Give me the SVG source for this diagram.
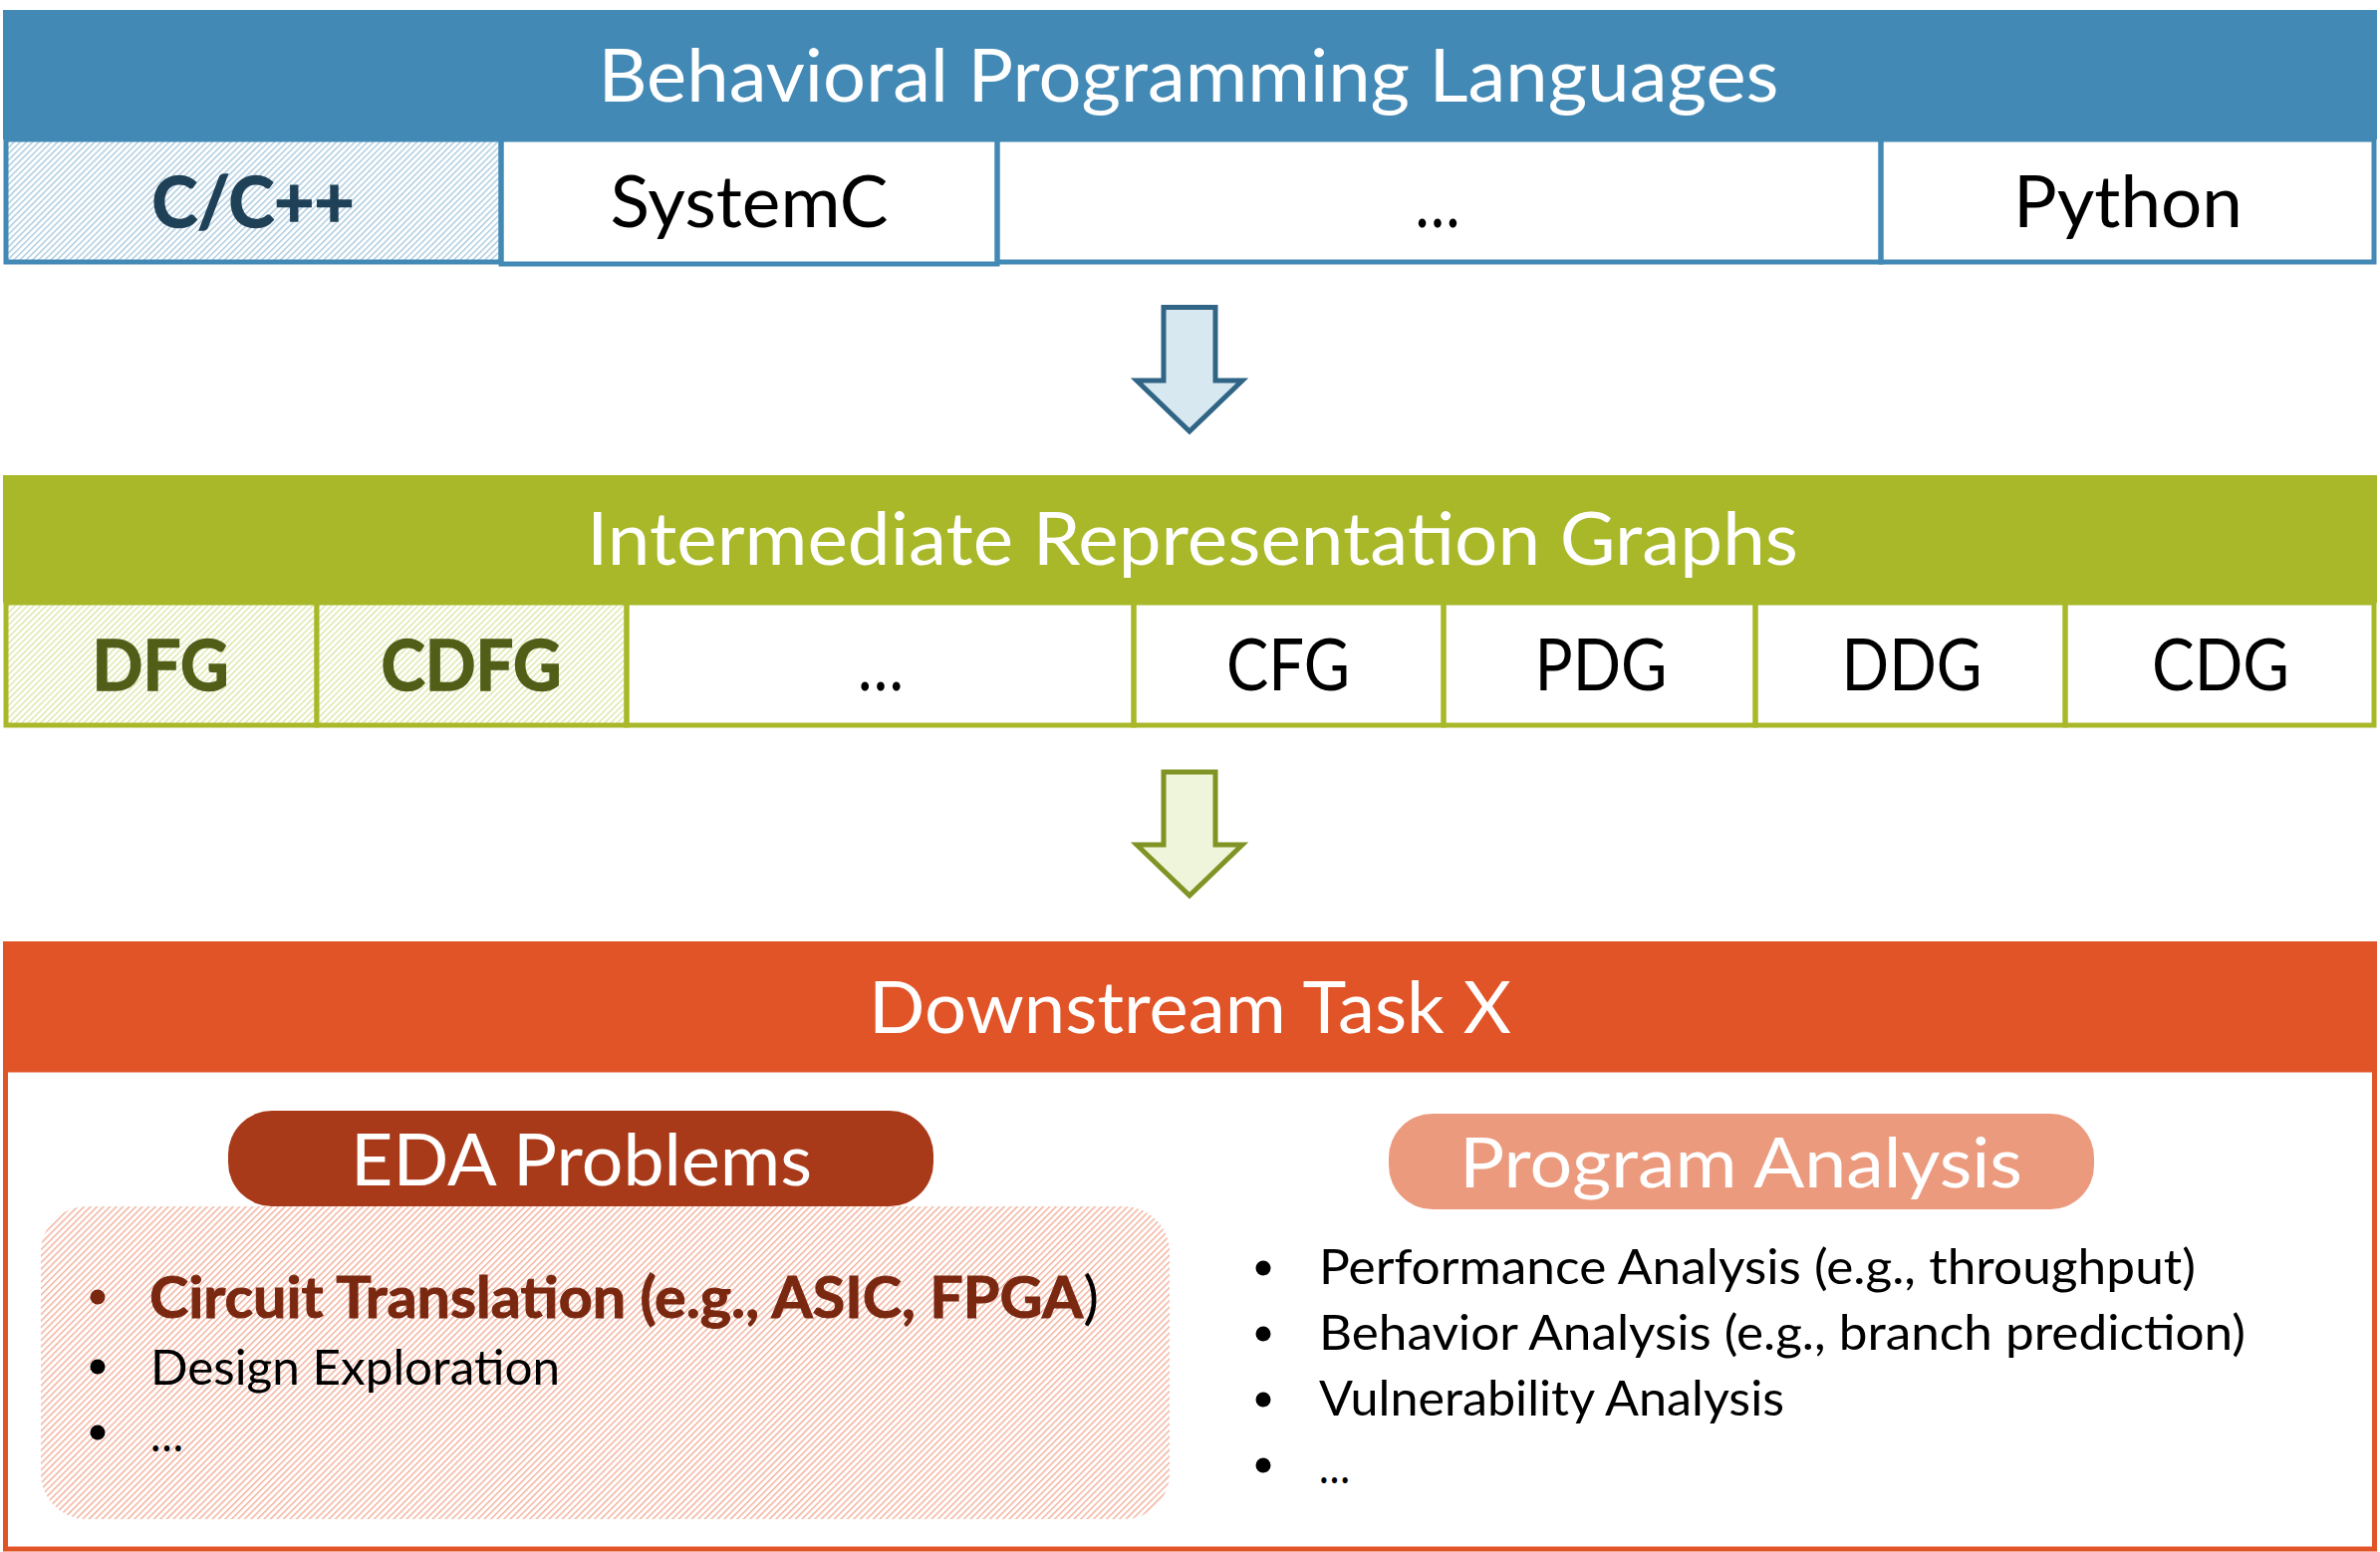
<svg xmlns="http://www.w3.org/2000/svg" width="2389" height="1558" viewBox="0 0 2389 1558">
<defs>
<pattern id="hBlue" patternUnits="userSpaceOnUse" width="4.4" height="4.4" patternTransform="rotate(45)">
<rect width="4.4" height="4.4" fill="#ffffff"/>
<rect x="0" y="0" width="1.4" height="4.4" fill="#A9CADF"/>
</pattern>
<pattern id="hGreen" patternUnits="userSpaceOnUse" width="4.4" height="4.4" patternTransform="rotate(45)">
<rect width="4.4" height="4.4" fill="#ffffff"/>
<rect x="0" y="0" width="1.4" height="4.4" fill="#DCE6A6"/>
</pattern>
<pattern id="hRed" patternUnits="userSpaceOnUse" width="4.6" height="4.6" patternTransform="rotate(45)">
<rect width="4.6" height="4.6" fill="#ffffff"/>
<rect x="0" y="0" width="1.4" height="4.6" fill="#F2AE99"/>
</pattern>
</defs>
<style>
text{font-family:Lato,"Open Sans","Liberation Sans",sans-serif;}
.hdr{fill:#ffffff;font-size:73px;text-anchor:middle;}
.cell{font-size:71px;text-anchor:middle;fill:#000000;}
.bcell{fill:none;stroke:#4289B5;stroke-width:5;}
.gcell{fill:none;stroke:#A8B829;stroke-width:5;}
.bul{font-size:49px;fill:#000000;}
.heavy{stroke-width:1.5px;paint-order:stroke;}
</style>
<rect width="2389" height="1558" fill="#ffffff"/>

<g id="behavioral">
<rect x="3" y="10" width="2383" height="130" fill="#4289B5"/>
<text class="hdr" x="1193" y="102" textLength="1185" lengthAdjust="spacingAndGlyphs">Behavioral Programming Languages</text>
</g>
<g id="cell-c">
<rect x="6" y="140" width="497" height="123" fill="url(#hBlue)"/>
<rect class="bcell" x="6" y="140" width="497" height="123"/>
<text class="cell heavy" x="254" y="228" font-weight="bold" style="fill:#1F4158;stroke:#1F4158" textLength="203" lengthAdjust="spacingAndGlyphs">C/C++</text>
</g>
<g id="cell-systemc">
<rect class="bcell" x="503" y="140" width="498" height="125" fill="#ffffff"/>
<text class="cell" x="752" y="228" textLength="279" lengthAdjust="spacingAndGlyphs">SystemC</text>
</g>
<g id="cell-dots1">
<rect class="bcell" x="1001" y="140" width="887" height="123"/>
<text class="cell" x="1443" y="228" textLength="45" lengthAdjust="spacingAndGlyphs">…</text>
</g>
<g id="cell-python">
<rect class="bcell" x="1888" y="140" width="495" height="123"/>
<text class="cell" x="2136" y="228" textLength="230" lengthAdjust="spacingAndGlyphs">Python</text>
</g>

<g id="connectors">
<polygon points="1168,308.5 1220,308.5 1220,382 1247,382 1194,433 1141,382 1168,382" fill="#D8E8F1" stroke="#316585" stroke-width="5"/>
<polygon points="1168,775 1220,775 1220,848 1247,848 1194,899 1141,848 1168,848" fill="#EFF5DA" stroke="#7F9424" stroke-width="5"/>
</g>

<g id="ir-graphs">
<rect x="3" y="477" width="2383" height="128" fill="#A8B829"/>
<text class="hdr" x="1197" y="567" textLength="1216" lengthAdjust="spacingAndGlyphs">Intermediate Representation Graphs</text>
</g>
<g id="cell-dfg">
<rect x="6" y="605" width="312" height="123" fill="url(#hGreen)"/>
<rect class="gcell" x="6" y="605" width="312" height="123"/>
<text class="cell heavy" x="161" y="693" font-weight="bold" style="fill:#505E17;stroke:#505E17" textLength="137" lengthAdjust="spacingAndGlyphs">DFG</text>
</g>
<g id="cell-cdfg">
<rect x="318" y="605" width="311" height="123" fill="url(#hGreen)"/>
<rect class="gcell" x="318" y="605" width="311" height="123"/>
<text class="cell heavy" x="473" y="693" font-weight="bold" style="fill:#505E17;stroke:#505E17" textLength="181" lengthAdjust="spacingAndGlyphs">CDFG</text>
</g>
<g id="cell-dots2">
<rect class="gcell" x="629" y="605" width="509" height="123"/>
<text class="cell" x="884" y="693" textLength="46" lengthAdjust="spacingAndGlyphs">…</text>
</g>
<g id="cell-cfg">
<rect class="gcell" x="1138" y="605" width="311" height="123"/>
<text class="cell" x="1293" y="693" textLength="124" lengthAdjust="spacingAndGlyphs">CFG</text>
</g>
<g id="cell-pdg">
<rect class="gcell" x="1449" y="605" width="313" height="123"/>
<text class="cell" x="1607" y="693" textLength="133" lengthAdjust="spacingAndGlyphs">PDG</text>
</g>
<g id="cell-ddg">
<rect class="gcell" x="1762" y="605" width="311" height="123"/>
<text class="cell" x="1919" y="693" textLength="141" lengthAdjust="spacingAndGlyphs">DDG</text>
</g>
<g id="cell-cdg">
<rect class="gcell" x="2073" y="605" width="310" height="123"/>
<text class="cell" x="2229" y="693" textLength="138" lengthAdjust="spacingAndGlyphs">CDG</text>
</g>

<g id="downstream">
<rect x="5.5" y="1074" width="2378" height="481" fill="#ffffff" stroke="#E05428" stroke-width="5"/>
<rect x="3" y="945" width="2383" height="129" fill="#E05428"/>
<text class="hdr" x="1194.5" y="1037" style="font-size:71px" textLength="645" lengthAdjust="spacingAndGlyphs">Downstream Task X</text>
</g>

<g id="eda">
<rect x="41" y="1211" width="1133" height="314" rx="46" ry="46" fill="url(#hRed)"/>
<rect x="229" y="1115" width="708" height="96" rx="44" ry="44" fill="#A93A19"/>
<text class="hdr" x="583.5" y="1190" style="font-size:72px" textLength="463" lengthAdjust="spacingAndGlyphs">EDA Problems</text>
<circle cx="98" cy="1302" r="7.5" fill="#7B2811"/>
<text x="150" y="1323" font-size="58" font-weight="bold" fill="#7B2811" stroke="#7B2811" stroke-width="1" textLength="953" lengthAdjust="spacingAndGlyphs">Circuit Translation (e.g., ASIC, FPGA<tspan font-weight="normal" fill="#000000" stroke="none">)</tspan></text>
<circle cx="98" cy="1372" r="7.5" fill="#000000"/>
<text class="bul" x="151" y="1390" textLength="411" lengthAdjust="spacingAndGlyphs">Design Exploration</text>
<circle cx="98" cy="1438" r="7.5" fill="#000000"/>
<text class="bul" x="151" y="1457" textLength="33" lengthAdjust="spacingAndGlyphs">…</text>
</g>

<g id="program-analysis">
<rect x="1394" y="1118" width="708" height="96" rx="44" ry="44" fill="#EC9A7E"/>
<text class="hdr" x="1747.5" y="1192" style="font-size:70px" textLength="565" lengthAdjust="spacingAndGlyphs">Program Analysis</text>
<circle cx="1268" cy="1273" r="7.5" fill="#000000"/>
<text class="bul" x="1324" y="1289" textLength="880" lengthAdjust="spacingAndGlyphs">Performance Analysis (e.g., throughput)</text>
<circle cx="1268" cy="1339" r="7.5" fill="#000000"/>
<text class="bul" x="1324" y="1355" textLength="930" lengthAdjust="spacingAndGlyphs">Behavior Analysis (e.g., branch prediction)</text>
<circle cx="1268" cy="1405" r="7.5" fill="#000000"/>
<text class="bul" x="1324" y="1421" textLength="467" lengthAdjust="spacingAndGlyphs">Vulnerability Analysis</text>
<circle cx="1268" cy="1471" r="7.5" fill="#000000"/>
<text class="bul" x="1324" y="1489" textLength="31" lengthAdjust="spacingAndGlyphs">…</text>
</g>
</svg>
